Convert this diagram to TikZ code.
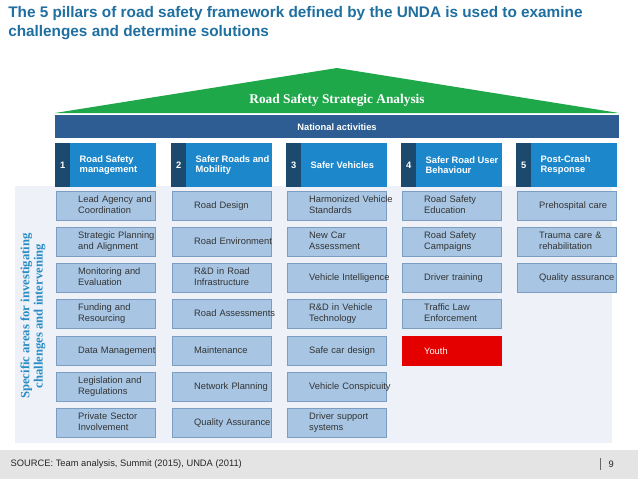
\documentclass[tikz,border=0pt]{standalone}
\usepackage{fontspec}
\setmainfont{Liberation Sans}
\newfontfamily\serifb{Liberation Serif}
\definecolor{ttl}{HTML}{1F6FA0}
\definecolor{roof}{HTML}{1FA84A}
\definecolor{navy}{HTML}{2D5D92}
\definecolor{hdr}{HTML}{1C88CB}
\definecolor{hdrd}{HTML}{1B4A6E}
\definecolor{cell}{HTML}{A8C6E3}
\definecolor{cellb}{HTML}{7C9DC2}
\definecolor{panel}{HTML}{EEF2F8}
\definecolor{foot}{HTML}{E4E4E4}
\definecolor{vtxt}{HTML}{2A8CC4}
\begin{document}
\begin{tikzpicture}[x=0.75pt,y=-0.75pt,
 cellbox/.style={draw=cellb,line width=1pt,fill=cell,minimum width=99*0.75pt,minimum height=29*0.75pt,inner sep=0pt,anchor=north west,font=\fontsize{7}{8}\selectfont,text=black!80,align=left,text width=80*0.75pt},
 redbox/.style={cellbox,fill=red!90!black,draw=red!90!black,text=white},
 hdrbox/.style={fill=hdr,minimum width=101*0.75pt,minimum height=44*0.75pt,anchor=north west,inner sep=0pt},
 numbox/.style={fill=hdrd,minimum width=15*0.75pt,minimum height=44*0.75pt,anchor=north west,inner sep=0pt,text=white,font=\bfseries\fontsize{7}{8}\selectfont},
 hdrtxt/.style={anchor=west,text=white,font=\bfseries\fontsize{7}{8}\selectfont,align=left}]
\useasboundingbox (0,0) rectangle (638,479);
\fill[white] (0,0) rectangle (638,479);
\node[anchor=north west,text=ttl,font=\bfseries\fontsize{11.5}{14}\selectfont,align=left,inner sep=0pt] (title) at (8,6) {The 5 pillars of road safety framework defined by the UNDA is used to examine\\challenges and determine solutions};
\fill[roof] (55,113) -- (337,68) -- (619,113) -- cycle;
\fill[roof] (220,88) rectangle (454,113);
\node[text=white,font=\serifb\bfseries\fontsize{10}{12}\selectfont] (rsa) at (337,100) {Road Safety Strategic Analysis};
\fill[navy] (55,115) rectangle (619,138);
\node[text=white,font=\bfseries\fontsize{7}{8}\selectfont] (nat) at (337,127) {National activities};
\fill[panel] (15,186) rectangle (612,443);
\foreach \i/\x/\t in {1/55/{Road Safety\\management},2/171/{Safer Roads and\\Mobility},3/286/{Safer Vehicles},4/401/{Safer Road User\\Behaviour},5/516/{Post-Crash\\Response}}{
  \node[hdrbox] (h\i) at (\x,143) {};
  \node[numbox] (n\i) at (\x,143) {\i};
  \node[hdrtxt] (t\i) at (\x+20,165) {\t};
}
\foreach \c/\x in {1/56,2/172,3/287,4/402,5/517}{}
% column 1
\foreach \r/\y/\t in {1/191/{Lead Agency and\\Coordination},2/227/{Strategic Planning\\and Alignment},3/263/{Monitoring and\\Evaluation},4/299/{Funding and\\Resourcing},5/336/{Data Management},6/372/{Legislation and\\Regulations},7/408/{Private Sector\\Involvement}}
  \node[cellbox] (a\r) at (56,\y) {\hspace*{9pt}\begin{tabular}{@{}l@{}}\t\end{tabular}};
\foreach \r/\y/\t in {1/191/{Road Design},2/227/{Road Environment},3/263/{R\&D in Road\\Infrastructure},4/299/{Road Assessments},5/336/{Maintenance},6/372/{Network Planning},7/408/{Quality Assurance}}
  \node[cellbox] (b\r) at (172,\y) {\hspace*{9pt}\begin{tabular}{@{}l@{}}\t\end{tabular}};
\foreach \r/\y/\t in {1/191/{Harmonized Vehicle\\Standards},2/227/{New Car\\Assessment},3/263/{Vehicle Intelligence},4/299/{R\&D in Vehicle\\Technology},5/336/{Safe car design},6/372/{Vehicle Conspicuity},7/408/{Driver support\\systems}}
  \node[cellbox] (c\r) at (287,\y) {\hspace*{9pt}\begin{tabular}{@{}l@{}}\t\end{tabular}};
\foreach \r/\y/\t in {1/191/{Road Safety\\Education},2/227/{Road Safety\\Campaigns},3/263/{Driver training},4/299/{Traffic Law\\Enforcement}}
  \node[cellbox] (d\r) at (402,\y) {\hspace*{9pt}\begin{tabular}{@{}l@{}}\t\end{tabular}};
\node[redbox] (d5) at (402,336) {\hspace*{9pt}Youth};
\foreach \r/\y/\t in {1/191/{Prehospital care},2/227/{Trauma care \&\\rehabilitation},3/263/{Quality assurance}}
  \node[cellbox] (e\r) at (517,\y) {\hspace*{9pt}\begin{tabular}{@{}l@{}}\t\end{tabular}};
\node[rotate=90,text=vtxt,font=\serifb\bfseries\fontsize{9.5}{10}\selectfont,align=center] (vt) at (33,316) {Specific areas for investigating\\challenges and intervening};
\fill[foot] (0,450) rectangle (638,479);
\node[anchor=west,font=\fontsize{7}{8}\selectfont,text=black!85] (src) at (6,464) {SOURCE: Team analysis, Summit (2015), UNDA (2011)};
\draw[black!60] (600,458) -- (600,470);
\node[anchor=west,font=\fontsize{7}{8}\selectfont,text=black!85] (pg) at (604,464) {9};
\end{tikzpicture}
\end{document}
